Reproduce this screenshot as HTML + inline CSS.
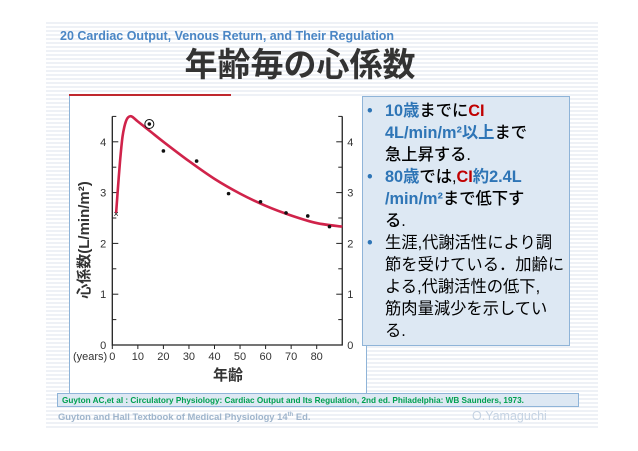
<!DOCTYPE html>
<html><head><meta charset="utf-8"><style>
html,body{margin:0;padding:0;width:638px;height:451px;background:#fff;overflow:hidden;font-family:"Liberation Sans","Noto Sans CJK JP",sans-serif}
#slide{position:absolute;left:46px;top:20px;width:552px;height:410px;background:repeating-linear-gradient(#fff 0,#fff 2px,#eef1f6 2px,#eef1f6 4px)}
.abs{position:absolute}
#sub{left:60px;top:29px;color:#4a86c5;font-weight:bold;font-size:12.5px}
#title{left:0;width:600px;text-align:center;top:38px;font-size:33px;font-weight:bold;color:#333}
#panel{left:69px;top:96px;width:296px;height:297px;background:#fff;border-left:1px solid #8fb4d8;border-right:1px solid #8fb4d8}
#redline{left:69px;top:94px;width:162px;height:2px;background:#c0282e}
#box{left:362px;top:96px;width:206px;height:248px;background:#dde8f3;border:1px solid #8fb4d8}
#box ul{margin:0;padding:3px 0 0 0;list-style:none;font-size:16.3px;line-height:22px;font-weight:500;white-space:nowrap}
#box li{position:relative;padding-left:22px}
#box li:before{content:"•";position:absolute;left:4px;color:#2e75b6}
.b{color:#2e75b6;font-weight:bold}.r{color:#c00000;font-weight:bold}
#cite{left:57px;top:393px;width:522px;height:14px;background:#dde8f3;border:1px solid #8fb4d8;color:#00a050;font-weight:bold;font-size:8.2px;line-height:14px;padding-left:4px;box-sizing:border-box;white-space:nowrap}
#foot{left:58px;top:411px;color:#9fb5cc;font-weight:bold;font-size:9.4px;white-space:nowrap}
#auth{left:472px;top:409px;color:#c5d3e3;font-size:12.5px}
</style></head><body>
<div id="slide" class="abs"></div>
<div id="sub" class="abs">20 Cardiac Output, Venous Return, and Their Regulation</div>
<div id="title" class="abs">年齢毎の心係数</div>
<div id="panel" class="abs"></div>
<div id="redline" class="abs"></div>
<svg class="abs" style="left:0;top:0" width="638" height="451">
<g id="axes"></g><g id="marks"></g>
<text x="73" y="360" font-size="11" fill="#333">(years)</text>
<text x="228" y="380" font-size="15" font-weight="bold" text-anchor="middle" fill="#333">年齢</text>
<text transform="translate(89,240) rotate(-90)" font-size="15" font-weight="bold" text-anchor="middle" fill="#333">心係数(L/min/m²)</text>
</svg>
<div id="box" class="abs">
<ul>
<li><span class="b">10歳</span>までに<span class="r">CI</span><br><span class="b">4L/min/m²以上</span>まで<br>急上昇する.</li>
<li><span class="b">80歳</span>では,<span class="r">CI</span><span class="b">約2.4L</span><br><span class="b">/min/m²</span>まで低下す<br>る.</li>
<li style="font-weight:normal">生涯,代謝活性により調<br>節を受けている．加齢に<br>よる,代謝活性の低下,<br>筋肉量減少を示してい<br>る.</li>
</ul></div>
<div id="cite" class="abs">Guyton AC,et al : Circulatory Physiology: Cardiac Output and Its Regulation, 2nd ed. Philadelphia: WB Saunders, 1973.</div>
<div id="foot" class="abs">Guyton and Hall Textbook of Medical Physiology 14<sup style="font-size:6px">th</sup> Ed.</div>
<div id="auth" class="abs">O.Yamaguchi</div>
<script>
const pointAges=[14.5,20,33,45.5,58,68,76.5,85];
const pointCI=[4.35,3.82,3.62,2.98,2.82,2.6,2.54,2.33];
const curveAges=[1.5,2,3,4,5,6,7.5,10,15,20,30,40,50,60,70,80,90];
const curveCI=[2.6,2.95,3.6,4.1,4.35,4.47,4.5,4.4,4.2,4.0,3.62,3.27,2.98,2.74,2.55,2.4,2.33];
const xTicks=[0,10,20,30,40,50,60,70,80];
const yTicks=[0,1,2,3,4];
const startAge=[1.5],startCI=[2.58];
const X0=112.3,XS=2.555,Y0=345,YS=50.8;
const sx=v=>X0+v*XS, sy=v=>Y0-v*YS;
const NS="http://www.w3.org/2000/svg";
const ax=document.getElementById('axes'),mk=document.getElementById('marks');
function el(p,t,a){const e=document.createElementNS(NS,t);for(const k in a)e.setAttribute(k,a[k]);p.appendChild(e);return e;}
const L=sx(0),R=sx(90);
let e=el(ax,'path',{d:`M${L},${sy(4.5)}V${Y0}H${R}V${sy(4.5)}`,stroke:'#222',fill:'none','stroke-width':1.3});

for(let v=0;v<=4.5;v+=0.5){
 const y=sy(v),len=(v%1===0)?6:4;
 el(ax,'line',{x1:L,x2:L+len,y1:y,y2:y,stroke:'#222'});
 el(ax,'line',{x1:R,x2:R-len,y1:y,y2:y,stroke:'#222'});
}
yTicks.forEach(v=>{
 let t=el(ax,'text',{x:L-6,y:sy(v)+4,'font-size':11,'text-anchor':'end',fill:'#333'});t.textContent=v;
 
 t=el(ax,'text',{x:R+5,y:sy(v)+4,'font-size':11,fill:'#333'});t.textContent=v;
 
});
xTicks.forEach(v=>{
 el(ax,'line',{x1:sx(v),x2:sx(v),y1:Y0,y2:Y0+4,stroke:'#222'});
 const t=el(ax,'text',{x:sx(v),y:Y0+15,'font-size':11,'text-anchor':'middle',fill:'#333'});t.textContent=v;
 
});
const P=curveAges.map((a,i)=>[sx(a),sy(curveCI[i])]);
let d=`M${P[0][0]},${P[0][1]}`;
for(let i=0;i<P.length-1;i++){const p0=P[i-1]||P[i],p1=P[i],p2=P[i+1],p3=P[i+2]||P[i+1];
 d+=`C${p1[0]+(p2[0]-p0[0])/6},${p1[1]+(p2[1]-p0[1])/6} ${p2[0]-(p3[0]-p1[0])/6},${p2[1]-(p3[1]-p1[1])/6} ${p2[0]},${p2[1]}`;}
e=el(mk,'path',{d,stroke:'#d0234a',fill:'none','stroke-width':2.6});

pointAges.forEach((a,i)=>{
 const c=el(mk,'circle',{cx:sx(a),cy:sy(pointCI[i]),r:1.8,fill:'#111'});
 
 if(i===0){const o=el(mk,'circle',{cx:sx(a),cy:sy(pointCI[i]),r:4.5,fill:'none',stroke:'#111','stroke-width':1});
  }
});
const x=el(mk,'text',{x:sx(startAge[0]),y:sy(startCI[0])+3,'font-size':9,'text-anchor':'middle',fill:'#111'});x.textContent='×';

</script>
</body></html>
